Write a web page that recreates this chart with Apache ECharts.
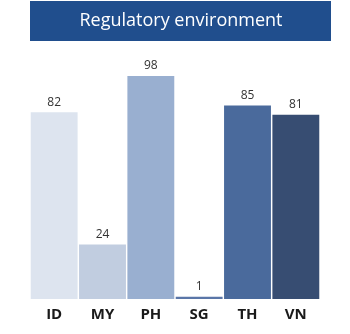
<!DOCTYPE html>
<html><head><meta charset="utf-8">
<script src="https://cdn.jsdelivr.net/npm/echarts@6/dist/echarts.min.js"></script>
<style>html,body{margin:0;padding:0;background:#fff}#c{width:350px;height:334px}</style>
</head><body><div id="c"></div>
<script>
var categories = ['ID','MY','PH','SG','TH','VN'];
var values = [82,24,98,1,85,81];
var colors = ['#dde4ef','#c1cde0','#99afd0','#5a76a8','#4a6a9c','#374d72'];
var title = 'Regulatory environment';

var chart = echarts.init(document.getElementById('c'), null, {renderer:'canvas'});
chart.setOption({
  animation:false,
  graphic:[
    {type:'rect', shape:{x:30,y:1,width:301,height:40}, style:{fill:'#204e8d'}},
    {type:'text', x:181, y:21, style:{text:title, fill:'#ffffff', font:'18px "Open Sans", sans-serif', textAlign:'center', textVerticalAlign:'middle'}}
  ],
  grid:{left:30,right:30,top:71.4,bottom:35,containLabel:false},
  xAxis:{type:'category', data:categories, axisLine:{show:false}, axisTick:{show:false},
    axisLabel:{color:'#1a1a1a', fontWeight:'bold', fontSize:15, fontFamily:'"Open Sans", sans-serif', margin:8}},
  yAxis:{type:'value', min:0, max:100, show:false, splitLine:{show:false}},
  series:[{type:'bar', barCategoryGap:'3%',
    data: values.map(function(v,i){return {value:v, itemStyle:{color:colors[i]}};}),
    label:{show:true, position:'top', distance:4, color:'#333', fontSize:12, fontFamily:'"Open Sans", sans-serif'}
  }]
});
</script></body></html>
